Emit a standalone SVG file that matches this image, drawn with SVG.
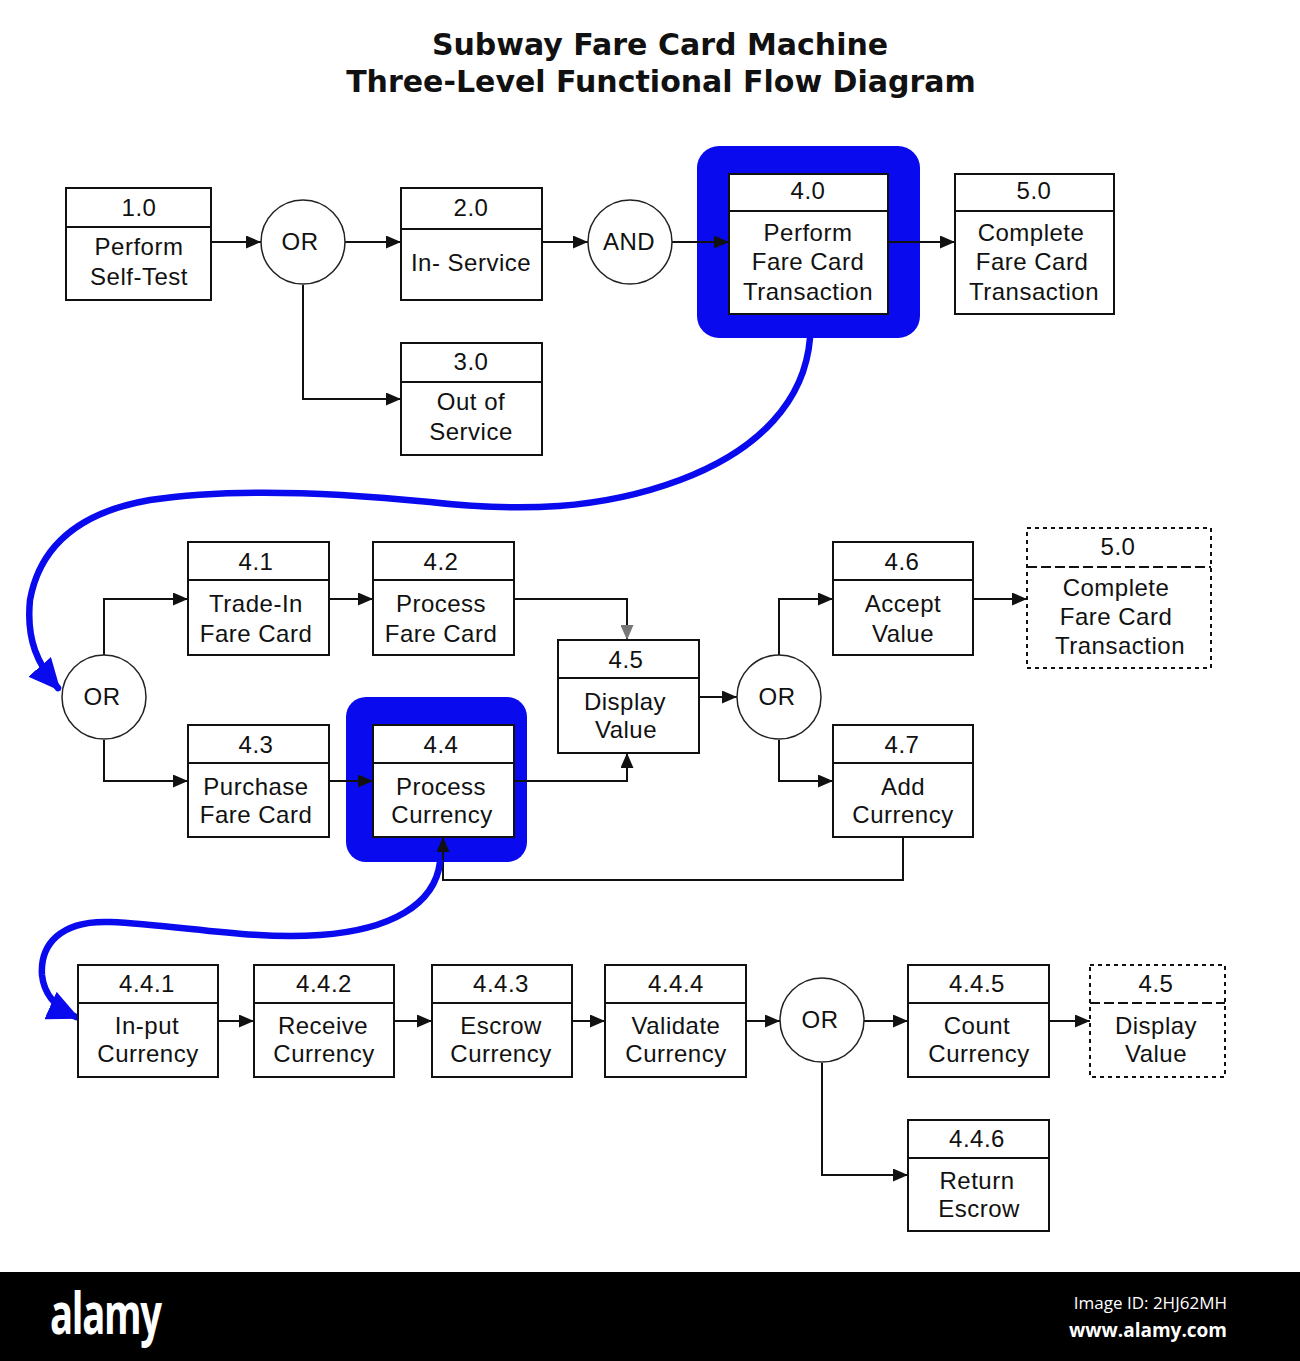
<svg xmlns="http://www.w3.org/2000/svg" width="1300" height="1361" viewBox="0 0 1300 1361">
<style>
.box{fill:#fff;stroke:#111;stroke-width:2}
.dbox{fill:#fff;stroke:#111;stroke-width:2;stroke-dasharray:4 4}
.div{stroke:#111;stroke-width:2}
.ddiv{stroke:#111;stroke-width:2;stroke-dasharray:10 4}
.gate{fill:#fff;stroke:#222;stroke-width:1.5}
.t{font-family:"Liberation Sans",Arial,sans-serif;font-size:24px;letter-spacing:0.5px;fill:#111;text-anchor:middle}
.title{font-family:"DejaVu Sans",Verdana,sans-serif;font-weight:bold;font-size:30px;fill:#111;text-anchor:middle}
.c{fill:none;stroke:#111;stroke-width:2}
.blue{fill:none;stroke:#0a0aef;stroke-width:6.5;stroke-linecap:round}
.hl{fill:#0a0aef}
</style>
<defs>
<marker id="ah" markerUnits="userSpaceOnUse" markerWidth="15" markerHeight="13" refX="15" refY="6.5" orient="auto"><path d="M0,0 L15,6.5 L0,13 z" fill="#111"/></marker>
<marker id="ahg" markerUnits="userSpaceOnUse" markerWidth="15" markerHeight="13" refX="15" refY="6.5" orient="auto"><path d="M0,0 L15,6.5 L0,13 z" fill="#777"/></marker>
<marker id="bh" markerUnits="userSpaceOnUse" markerWidth="32" markerHeight="30" refX="28" refY="15" orient="auto"><path d="M0,0 L32,15 L0,30 z" fill="#0a0aef"/></marker>
</defs>
<rect x="0" y="0" width="1300" height="1361" fill="#fff"/>
<g id="title">
<text class="title" x="660" y="55">Subway Fare Card Machine</text>
<text class="title" x="661" y="92">Three-Level Functional Flow Diagram</text>
</g>
<g id="highlights">
<rect class="hl" x="697" y="146" width="223" height="192" rx="22"/>
<rect class="hl" x="346" y="697" width="181" height="165" rx="20"/>
</g>
<g id="connectors">
<line class="c" x1="211" y1="242" x2="261" y2="242" marker-end="url(#ah)"/>
<line class="c" x1="345" y1="242" x2="401" y2="242" marker-end="url(#ah)"/>
<line class="c" x1="542" y1="242" x2="588" y2="242" marker-end="url(#ah)"/>
<line class="c" x1="672" y1="242" x2="729" y2="242" marker-end="url(#ah)"/>
<line class="c" x1="888" y1="242" x2="955" y2="242" marker-end="url(#ah)"/>
<polyline class="c" points="303,285 303,399 401,399" marker-end="url(#ah)"/>
<polyline class="c" points="104,655 104,599 188,599" marker-end="url(#ah)"/>
<polyline class="c" points="104,740 104,781 188,781" marker-end="url(#ah)"/>
<line class="c" x1="329" y1="599" x2="373" y2="599" marker-end="url(#ah)"/>
<line class="c" x1="329" y1="781" x2="373" y2="781" marker-end="url(#ah)"/>
<polyline class="c" points="514,599 627,599 627,640" marker-end="url(#ahg)"/>
<polyline class="c" points="514,781 627,781 627,753" marker-end="url(#ah)"/>
<line class="c" x1="699" y1="697" x2="737" y2="697" marker-end="url(#ah)"/>
<polyline class="c" points="779,655 779,599 833,599" marker-end="url(#ah)"/>
<polyline class="c" points="779,740 779,781 833,781" marker-end="url(#ah)"/>
<line class="c" x1="973" y1="599" x2="1027" y2="599" marker-end="url(#ah)"/>
<polyline class="c" points="903,837 903,880 443,880 443,837" marker-end="url(#ah)"/>
<line class="c" x1="218" y1="1021" x2="254" y2="1021" marker-end="url(#ah)"/>
<line class="c" x1="394" y1="1021" x2="432" y2="1021" marker-end="url(#ah)"/>
<line class="c" x1="572" y1="1021" x2="605" y2="1021" marker-end="url(#ah)"/>
<line class="c" x1="746" y1="1021" x2="780" y2="1021" marker-end="url(#ah)"/>
<line class="c" x1="864" y1="1021" x2="908" y2="1021" marker-end="url(#ah)"/>
<line class="c" x1="1049" y1="1021" x2="1090" y2="1021" marker-end="url(#ah)"/>
<polyline class="c" points="822,1063 822,1175 908,1175" marker-end="url(#ah)"/>
<path class="blue" d="M810,338 C805,400 760,450 680,480 C600,510 520,512 430,502 C330,492 230,488 150,500 C80,512 40,545 30,600 C26,640 38,665 58,688" marker-end="url(#bh)"/>
<path class="blue" d="M440,862 C435,905 390,930 320,935 C250,940 180,925 110,922 C60,920 40,945 42,975 C44,995 56,1008 76,1017" marker-end="url(#bh)"/>
</g>
<g id="n1_0"><rect class="box" x="66" y="188" width="145" height="112"/><line class="div" x1="66" y1="227" x2="211" y2="227"/><text class="t" x="139" y="216">1.0</text><text class="t" x="139" y="255">Perform</text><text class="t" x="139" y="285">Self-Test</text></g>
<g id="or1"><circle class="gate" cx="303" cy="242" r="42"/><text class="t" x="300" y="250">OR</text></g>
<g id="n2_0"><rect class="box" x="401" y="188" width="141" height="112"/><line class="div" x1="401" y1="229" x2="542" y2="229"/><text class="t" x="471" y="216">2.0</text><text class="t" x="471" y="271">In- Service</text></g>
<g id="and1"><circle class="gate" cx="630" cy="242" r="42"/><text class="t" x="629" y="250">AND</text></g>
<g id="n4_0"><rect class="box" x="729" y="174" width="159" height="140"/><line class="div" x1="729" y1="211" x2="888" y2="211"/><text class="t" x="808" y="199">4.0</text><text class="t" x="808" y="241">Perform</text><text class="t" x="808" y="270">Fare Card</text><text class="t" x="808" y="300">Transaction</text></g>
<g id="n5_0"><rect class="box" x="955" y="174" width="159" height="140"/><line class="div" x1="955" y1="211" x2="1114" y2="211"/><text class="t" x="1034" y="199">5.0</text><text class="t" x="1031" y="241">Complete</text><text class="t" x="1032" y="270">Fare Card</text><text class="t" x="1034" y="300">Transaction</text></g>
<g id="n3_0"><rect class="box" x="401" y="343" width="141" height="112"/><line class="div" x1="401" y1="382" x2="542" y2="382"/><text class="t" x="471" y="370">3.0</text><text class="t" x="471" y="410">Out of</text><text class="t" x="471" y="440">Service</text></g>
<g id="or2"><circle class="gate" cx="104" cy="697" r="42"/><text class="t" x="102" y="705">OR</text></g>
<g id="n4_1"><rect class="box" x="188" y="542" width="141" height="113"/><line class="div" x1="188" y1="580" x2="329" y2="580"/><text class="t" x="256" y="570">4.1</text><text class="t" x="256" y="612">Trade-In</text><text class="t" x="256" y="642">Fare Card</text></g>
<g id="n4_2"><rect class="box" x="373" y="542" width="141" height="113"/><line class="div" x1="373" y1="580" x2="514" y2="580"/><text class="t" x="441" y="570">4.2</text><text class="t" x="441" y="612">Process</text><text class="t" x="441" y="642">Fare Card</text></g>
<g id="n4_3"><rect class="box" x="188" y="725" width="141" height="112"/><line class="div" x1="188" y1="763" x2="329" y2="763"/><text class="t" x="256" y="753">4.3</text><text class="t" x="256" y="795">Purchase</text><text class="t" x="256" y="823">Fare Card</text></g>
<g id="n4_4"><rect class="box" x="373" y="725" width="141" height="112"/><line class="div" x1="373" y1="763" x2="514" y2="763"/><text class="t" x="441" y="753">4.4</text><text class="t" x="441" y="795">Process</text><text class="t" x="442" y="823">Currency</text></g>
<g id="n4_5"><rect class="box" x="558" y="640" width="141" height="113"/><line class="div" x1="558" y1="678" x2="699" y2="678"/><text class="t" x="626" y="668">4.5</text><text class="t" x="625" y="710">Display</text><text class="t" x="626" y="738">Value</text></g>
<g id="or3"><circle class="gate" cx="779" cy="697" r="42"/><text class="t" x="777" y="705">OR</text></g>
<g id="n4_6"><rect class="box" x="833" y="542" width="140" height="113"/><line class="div" x1="833" y1="580" x2="973" y2="580"/><text class="t" x="902" y="570">4.6</text><text class="t" x="903" y="612">Accept</text><text class="t" x="903" y="642">Value</text></g>
<g id="n4_7"><rect class="box" x="833" y="725" width="140" height="112"/><line class="div" x1="833" y1="763" x2="973" y2="763"/><text class="t" x="902" y="753">4.7</text><text class="t" x="903" y="795">Add</text><text class="t" x="903" y="823">Currency</text></g>
<g id="n5_0ref"><rect class="dbox" x="1027" y="528" width="184" height="140"/><line class="ddiv" x1="1027" y1="567" x2="1211" y2="567"/><text class="t" x="1118" y="555">5.0</text><text class="t" x="1116" y="596">Complete</text><text class="t" x="1116" y="625">Fare Card</text><text class="t" x="1120" y="654">Transaction</text></g>
<g id="n4_4_1"><rect class="box" x="78" y="965" width="140" height="112"/><line class="div" x1="78" y1="1003" x2="218" y2="1003"/><text class="t" x="147" y="992">4.4.1</text><text class="t" x="147" y="1034">In-put</text><text class="t" x="148" y="1062">Currency</text></g>
<g id="n4_4_2"><rect class="box" x="254" y="965" width="140" height="112"/><line class="div" x1="254" y1="1003" x2="394" y2="1003"/><text class="t" x="324" y="992">4.4.2</text><text class="t" x="323" y="1034">Receive</text><text class="t" x="324" y="1062">Currency</text></g>
<g id="n4_4_3"><rect class="box" x="432" y="965" width="140" height="112"/><line class="div" x1="432" y1="1003" x2="572" y2="1003"/><text class="t" x="501" y="992">4.4.3</text><text class="t" x="501" y="1034">Escrow</text><text class="t" x="501" y="1062">Currency</text></g>
<g id="n4_4_4"><rect class="box" x="605" y="965" width="141" height="112"/><line class="div" x1="605" y1="1003" x2="746" y2="1003"/><text class="t" x="676" y="992">4.4.4</text><text class="t" x="676" y="1034">Validate</text><text class="t" x="676" y="1062">Currency</text></g>
<g id="or4"><circle class="gate" cx="822" cy="1020" r="42"/><text class="t" x="820" y="1028">OR</text></g>
<g id="n4_4_5"><rect class="box" x="908" y="965" width="141" height="112"/><line class="div" x1="908" y1="1003" x2="1049" y2="1003"/><text class="t" x="977" y="992">4.4.5</text><text class="t" x="977" y="1034">Count</text><text class="t" x="979" y="1062">Currency</text></g>
<g id="n4_5ref"><rect class="dbox" x="1090" y="965" width="135" height="112"/><line class="ddiv" x1="1090" y1="1003" x2="1225" y2="1003"/><text class="t" x="1156" y="992">4.5</text><text class="t" x="1156" y="1034">Display</text><text class="t" x="1156" y="1062">Value</text></g>
<g id="n4_4_6"><rect class="box" x="908" y="1120" width="141" height="111"/><line class="div" x1="908" y1="1158" x2="1049" y2="1158"/><text class="t" x="977" y="1147">4.4.6</text><text class="t" x="977" y="1189">Return</text><text class="t" x="979" y="1217">Escrow</text></g>
<g id="watermark">
<rect x="0" y="1272" width="1300" height="89" fill="#000"/>
<text x="50" y="1334" font-family="'Open Sans','DejaVu Sans',sans-serif" font-weight="bold" font-size="58" fill="#fff" transform="translate(50 1334) scale(0.66 1) translate(-50 -1334)" letter-spacing="-2">alamy</text>
<text x="1227" y="1309" font-family="'Open Sans','DejaVu Sans',sans-serif" font-size="17" fill="#fff" text-anchor="end">Image ID: 2HJ62MH</text>
<text x="1227" y="1337" font-family="'Open Sans','DejaVu Sans',sans-serif" font-weight="bold" font-size="19" fill="#fff" text-anchor="end">www.alamy.com</text>
</g>
</svg>
